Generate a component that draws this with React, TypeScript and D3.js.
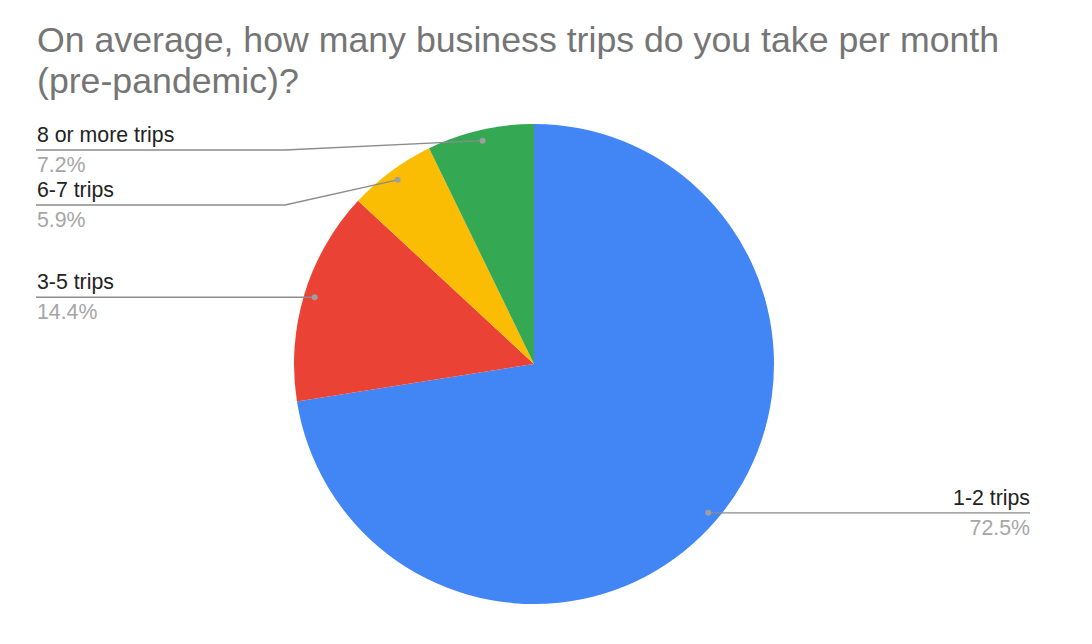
import React, { useEffect, useRef } from "react";
import * as d3 from "d3";

const categories = ["1-2 trips", "3-5 trips", "6-7 trips", "8 or more trips"];
const values = [72.5, 14.4, 5.9, 7.2];
const colors = ["#4285F4", "#EA4335", "#FBBC04", "#34A853"];
const titleLines = [
  "On average, how many business trips do you take per month",
  "(pre-pandemic)?",
];

const W = 1092;
const H = 644;

export default function App() {
  const ref = useRef<SVGSVGElement>(null);

  useEffect(() => {
    if (!ref.current) return;
    const svg = d3.select(ref.current);
    svg.selectAll("*").remove();

    const cx = 534;
    const cy = 364;
    const r = 240;
    const font = "Arial, 'Liberation Sans', sans-serif";

    // Title
    svg
      .append("g")
      .selectAll("text")
      .data(titleLines)
      .join("text")
      .attr("x", 37)
      .attr("y", (_, i) => 52 + i * 41)
      .attr("font-family", font)
      .attr("font-size", 35.7)
      .attr("fill", "#757575")
      .text((d) => d);

    const pie = d3
      .pie<number>()
      .sort(null)
      .value((d) => d);
    const arcs = pie(values);

    const arc = d3.arc<d3.PieArcDatum<number>>().innerRadius(0).outerRadius(r);
    const dotArc = d3
      .arc<d3.PieArcDatum<number>>()
      .innerRadius(r * 0.955)
      .outerRadius(r * 0.955);

    const g = svg.append("g").attr("transform", `translate(${cx},${cy})`);
    g.selectAll("path")
      .data(arcs)
      .join("path")
      .attr("d", arc)
      .attr("fill", (_, i) => colors[i]);

    // Label layout: left side sorted top-down, pushed apart
    const items = arcs.map((a, i) => {
      const [dx, dy] = dotArc.centroid(a);
      return { i, x: cx + dx, y: cy + dy, left: dx < 0, ly: cy + dy };
    });
    const leftItems = items.filter((d) => d.left).sort((a, b) => a.y - b.y);
    let prev = 150 - 55;
    leftItems.forEach((d) => {
      d.ly = Math.max(d.y, prev + 55);
      prev = d.ly;
    });

    const lineColor = "#8c8c8c";
    const leftX = 36;
    const rightX = 1030;
    const bendX = 285;

    const lg = svg.append("g");
    items.forEach((d) => {
      const pts: [number, number][] = d.left
        ? Math.abs(d.ly - d.y) > 1
          ? [
              [leftX, d.ly],
              [bendX, d.ly],
              [d.x, d.y],
            ]
          : [
              [leftX, d.ly],
              [d.x, d.y],
            ]
        : [
            [d.x, d.y],
            [rightX, d.ly],
          ];
      lg.append("path")
        .attr("d", d3.line()(pts))
        .attr("fill", "none")
        .attr("stroke", lineColor)
        .attr("stroke-width", 1.4);
      lg.append("circle")
        .attr("cx", d.x)
        .attr("cy", d.y)
        .attr("r", 3)
        .attr("fill", "#9e9e9e");

      const tx = d.left ? leftX + 1 : rightX;
      const anchor = d.left ? "start" : "end";
      lg.append("text")
        .attr("x", tx)
        .attr("y", d.ly - 8)
        .attr("text-anchor", anchor)
        .attr("font-family", font)
        .attr("font-size", 21.3)
        .attr("fill", "#222222")
        .text(categories[d.i]);
      lg.append("text")
        .attr("x", tx)
        .attr("y", d.ly + 22)
        .attr("text-anchor", anchor)
        .attr("font-family", font)
        .attr("font-size", 21.3)
        .attr("fill", "#a6a6a6")
        .text(`${d3.format(".1f")(values[d.i])}%`);
    });
  }, []);

  return (
    <svg
      ref={ref}
      width={W}
      height={H}
      style={{ position: "absolute", left: 0, top: 0, background: "#ffffff" }}
    />
  );
}
